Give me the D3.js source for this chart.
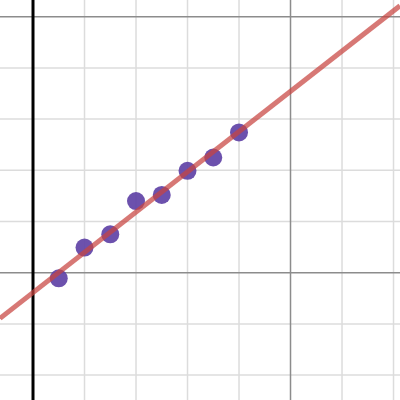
<!DOCTYPE html>
<html>
<head>
<meta charset="utf-8">
<script src="https://cdn.jsdelivr.net/npm/d3@7"></script>
<style>
  html, body { margin: 0; padding: 0; background: #fff; }
  svg { display: block; }
</style>
</head>
<body>
<div id="chart"></div>
<script>
// data
const xValues = [0.5, 1, 1.5, 2, 2.5, 3, 3.5, 4];
const yValues = [4.89, 5.49, 5.75, 6.40, 6.52, 6.99, 7.25, 7.74];
const fitSlope = 0.786;
const fitIntercept = 4.613;
const xGridTicks = [0, 1, 2, 3, 4, 5, 6, 7];
const yGridTicks = [3, 4, 5, 6, 7, 8, 9, 10];

const width = 400, height = 400;

const svg = d3.select("#chart").append("svg")
    .attr("width", width)
    .attr("height", height);

// graph-paper view, roughly 51 px per unit
let x = d3.scaleLinear()
    .domain([-0.641, 7.126])
    .range([0, width]);

let y = d3.scaleLinear()
    .domain([2.514, 10.326])
    .range([height, 0]);

// minor grid
svg.append("g").selectAll("line")
    .data(xGridTicks.filter(d => d % 5 !== 0))
    .join("line")
    .attr("x1", d => x(d)).attr("x2", d => x(d))
    .attr("y1", 0).attr("y2", height)
    .attr("stroke", "#dcdcdc")
    .attr("stroke-width", 1.5);

svg.append("g").selectAll("line")
    .data(yGridTicks.filter(d => d % 5 !== 0))
    .join("line")
    .attr("x1", 0).attr("x2", width)
    .attr("y1", d => y(d)).attr("y2", d => y(d))
    .attr("stroke", "#dcdcdc")
    .attr("stroke-width", 1.5);

// major grid (every 5)
svg.append("g").selectAll("line")
    .data(xGridTicks.filter(d => d % 5 === 0 && d !== 0))
    .join("line")
    .attr("x1", d => x(d)).attr("x2", d => x(d))
    .attr("y1", 0).attr("y2", height)
    .attr("stroke", "#8c8c8c")
    .attr("stroke-width", 1.5);

svg.append("g").selectAll("line")
    .data(yGridTicks.filter(d => d % 5 === 0))
    .join("line")
    .attr("x1", 0).attr("x2", width)
    .attr("y1", d => y(d)).attr("y2", d => y(d))
    .attr("stroke", "#8c8c8c")
    .attr("stroke-width", 1.5);

// y axis
svg.append("line")
    .attr("x1", x(0)).attr("x2", x(0))
    .attr("y1", 0).attr("y2", height)
    .attr("stroke", "#000")
    .attr("stroke-width", 3);

// points
const points = xValues.map((d, i) => ({x: d, y: yValues[i]}));

svg.append("g").selectAll("circle")
    .data(points)
    .join("circle")
    .attr("cx", d => x(d.x))
    .attr("cy", d => y(d.y))
    .attr("r", 9)
    .attr("fill", "#6042a6")
    .attr("fill-opacity", 0.92);

// fitted line over the points
const xs = x.domain();
const line = d3.line()
    .x(d => x(d))
    .y(d => y(fitIntercept + fitSlope * d));

svg.append("path")
    .datum(xs)
    .attr("d", line)
    .attr("fill", "none")
    .attr("stroke", "#c74440")
    .attr("stroke-opacity", 0.72)
    .attr("stroke-width", 5);
</script>
</body>
</html>
